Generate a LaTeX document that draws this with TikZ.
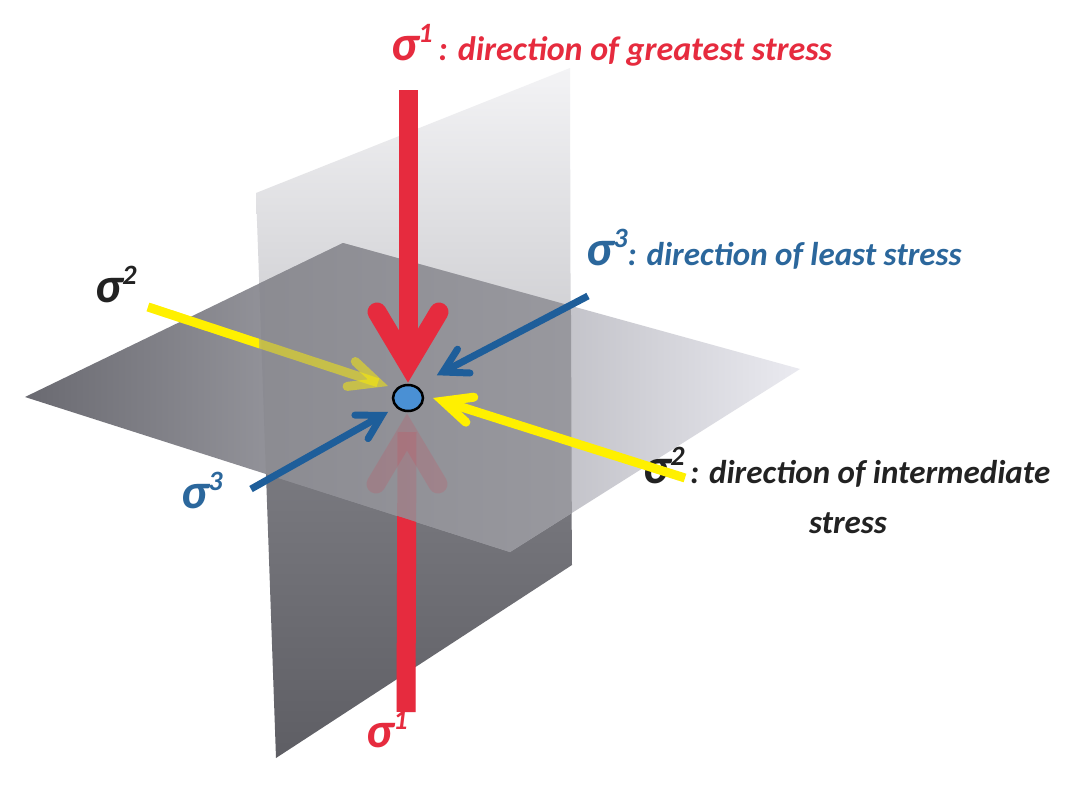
\documentclass[tikz,border=0pt]{standalone}
\usepackage{fontspec}
\setmainfont{Carlito}
\usetikzlibrary{calc,shapes.geometric}
\definecolor{sred}{HTML}{E62B3E}
\definecolor{sblue}{HTML}{1E5E9A}
\definecolor{tblue}{HTML}{2B679C}
\definecolor{syel}{HTML}{FFF000}
\definecolor{tblack}{HTML}{222222}
\definecolor{cblue}{HTML}{4A90D4}
\definecolor{hL}{HTML}{6A6A71}
\definecolor{hM}{HTML}{98989F}
\definecolor{hR}{HTML}{EAEAF0}
\definecolor{hV}{HTML}{8A8A90}
\definecolor{vT}{HTML}{F3F3F5}
\definecolor{vU}{HTML}{C6C6CA}
\definecolor{vL}{HTML}{808086}
\definecolor{vB}{HTML}{5E5E64}
\newcommand{\sigsup}[1]{{\fontsize{50}{50}\selectfont σ}\raisebox{18pt}{\fontsize{28}{28}\selectfont #1}}
\tikzset{
  lbl/.style={font=\fontsize{34}{40}\selectfont\bfseries\itshape, inner sep=0pt, anchor=base west},
  lbls/.style={lbl, font=\fontsize{33}{40}\selectfont\bfseries\itshape},
  redshaft/.style={draw=sred, line width=19pt, line cap=butt},
  redhead/.style={draw=sred, line width=19pt, line cap=round, line join=miter},
  blueshaft/.style={draw=sblue, line width=7pt, line cap=butt},
  bluehead/.style={draw=sblue, line width=7pt, line cap=round, line join=miter},
  yelshaft/.style={draw=syel, line width=9pt, line cap=butt},
  yelhead/.style={draw=syel, line width=9pt, line cap=round, line join=miter},
}
\begin{document}
\begin{tikzpicture}[x=1pt,y=-1pt]
\useasboundingbox (0,0) rectangle (1077,787);
\fill[white] (0,0) rectangle (1077,787);
% planes
\coordinate (VA) at (256,193);
\coordinate (VB) at (570,68);
\coordinate (VC) at (572,565);
\coordinate (VD) at (276,758);
\coordinate (VM1) at (263.4,400);
\coordinate (VM2) at (570.8,400);
\coordinate (HL) at (25,397);
\coordinate (HT) at (343,243);
\coordinate (HR) at (800,369);
\coordinate (HB) at (510,552);
\shade[top color=vT, bottom color=vU] (VA) -- (VB) -- (VM2) -- (VM1) -- cycle;
\shade[top color=vL, bottom color=vB] (VM1) -- (VM2) -- (VC) -- (VD) -- cycle;
\shade[left color=hL, middle color=hM, right color=hR] (HL) -- (HT) -- (HR) -- (HB) -- cycle;
\begin{scope}
\clip (HL) -- (HT) -- (HR) -- (HB) -- cycle;
\fill[hV, opacity=0.75] (VA) -- (VB) -- (VC) -- (VD) -- cycle;
\end{scope}
% lower red arrow (seen through horizontal plane)
\coordinate (r2s) at (406,712);
\coordinate (r2v) at (407,432);
\begin{scope}[opacity=0.15]
\draw[redshaft] (r2s) -- (r2v);
\draw[redhead] ($(r2v)+(-31,52)$) -- (r2v) -- ($(r2v)+(31,52)$);
\end{scope}
\begin{scope}
\clip (HL) -- (HB) -- (510,787) -- (0,787) -- (0,397) -- cycle;
\draw[redshaft] (r2s) -- (r2v);
\end{scope}
% left yellow arrow (partly behind vertical plane)
\coordinate (y2s) at (148,307);
\coordinate (y2v) at (377.9,382.7);
\begin{scope}[opacity=0.5]
\draw[yelshaft] (y2s) -- (y2v);
\draw[yelhead] (347.1,386.4) -- (y2v) -- (355.3,361.5);
\end{scope}
\begin{scope}
\clip (0,0) rectangle (259,787);
\draw[yelshaft] (y2s) -- (y2v);
\end{scope}
% centre point
\node[ellipse, draw=black, line width=2.5pt, fill=cblue, minimum width=30pt, minimum height=26pt, inner sep=0pt] (c) at (408,398) {};
% upper red arrow
\coordinate (r1s) at (408,90);
\coordinate (r1v) at (408,364);
\draw[redshaft] (r1s) -- (r1v);
\draw[redhead] ($(r1v)+(-31,-52)$) -- (r1v) -- ($(r1v)+(31,-52)$);
% blue arrows
\coordinate (b1s) at (588,296);
\coordinate (b1v) at (443,372);
\draw[blueshaft] (b1s) -- (b1v);
\draw[bluehead] (457.5,349.2) -- (b1v) -- (470,373);
\coordinate (b2s) at (251,489);
\coordinate (b2v) at (381.9,415.4);
\draw[blueshaft] (b2s) -- (b2v);
\draw[bluehead] (368.1,438.6) -- (b2v) -- (354.9,415.1);
% labels
\node[lbl, text=sred] (t1) at (391,60) {\sigsup{1}\,: direction of greatest stress};
\node[lbls, text=tblue] (t3) at (586,265) {\sigsup{3}: direction of least stress};
\node[lbl, text=tblack] (t2l) at (95,302) {\sigsup{2}};
\node[lbl, text=tblue] (t3l) at (181,508) {\sigsup{3}};
\node[lbl, text=sred] (t1b) at (366,747) {\sigsup{1}};
\node[lbls, text=tblack] (t2) at (643,483) {\sigsup{2}\,: direction of intermediate};
\node[lbls, text=tblack, anchor=base] (t2b) at (848,533) {stress};
% right yellow arrow
\coordinate (y1s) at (685,478);
\coordinate (y1v) at (443.1,401.2);
\draw[yelshaft] (y1s) -- (y1v);
\draw[yelhead] (473.8,397.2) -- (y1v) -- (465.9,422.2);
\end{tikzpicture}
\end{document}
